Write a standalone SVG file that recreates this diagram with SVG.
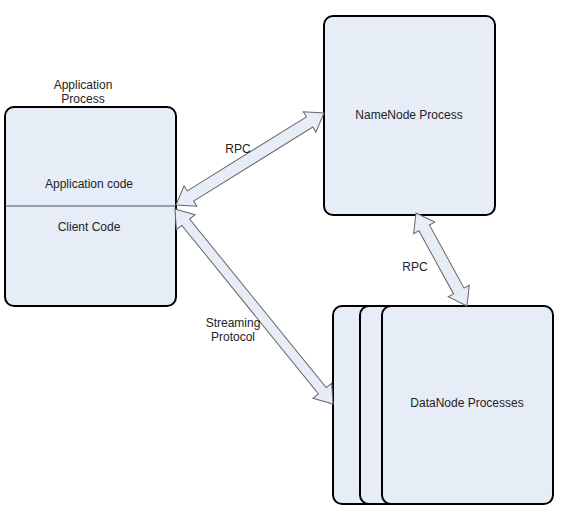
<svg xmlns="http://www.w3.org/2000/svg" width="564" height="512" viewBox="0 0 564 512">
<style>
.box{fill:#e7edf7;stroke:#000;stroke-width:2}
.arrow{fill:#e7edf7;stroke:#666;stroke-width:1;stroke-linejoin:miter}
.t{font-family:"Liberation Sans",Arial,sans-serif;font-size:12px;fill:#222;text-anchor:middle}
</style>
<rect width="564" height="512" fill="#fff"/>
<g id="app-process">
<text class="t" x="83" y="89">Application</text>
<text class="t" x="83" y="103">Process</text>
<rect class="box" x="5" y="107" width="171" height="199" rx="9"/>
<line x1="5" y1="206" x2="176" y2="206" stroke="#4a5568" stroke-width="1.2"/>
<text class="t" x="89" y="188">Application code</text>
<text class="t" x="89" y="231">Client Code</text>
</g>
<g id="namenode">
<rect class="box" x="324" y="16" width="171" height="199" rx="9"/>
<text class="t" x="409" y="119">NameNode Process</text>
</g>
<g id="datanodes">
<rect class="box" x="333" y="306" width="171" height="198" rx="9"/>
<rect class="box" x="360" y="306" width="171" height="198" rx="9"/>
<rect class="box" x="382" y="306" width="171" height="198" rx="9"/>
<text class="t" x="467" y="407">DataNode Processes</text>
</g>
<g id="connectors">
<polygon class="arrow" transform="translate(176,205) rotate(-31.87)" points="0,0 17,-12 17,-6 157.3,-6 157.3,-12 174.3,0 157.3,12 157.3,6 17,6 17,12"/>
<polygon class="arrow" transform="translate(175,209) rotate(50.98)" points="0,0 17,-12 17,-5 234,-5 234,-12 251,0 234,12 234,5 17,5 17,12"/>
<polygon class="arrow" transform="translate(416,213) rotate(61.26)" points="0,0 17,-12 17,-6 89,-6 89,-12 106,0 89,12 89,6 17,6 17,12"/>
<text class="t" x="238" y="153">RPC</text>
<text class="t" x="415" y="271">RPC</text>
<text class="t" x="233" y="327">Streaming</text>
<text class="t" x="233" y="341">Protocol</text>
</g>
</svg>
